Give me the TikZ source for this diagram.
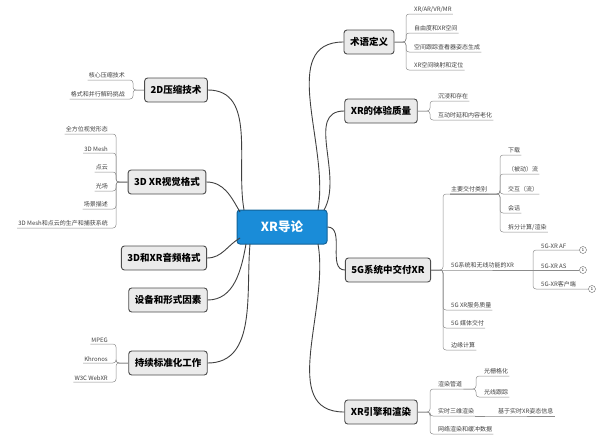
\documentclass[tikz,border=0pt]{standalone}
\usepackage{fontspec}
\setmainfont{Noto Sans CJK SC}
\definecolor{cblue}{HTML}{1A8CD8}
\definecolor{mfill}{HTML}{EBEBEB}
\begin{document}
\begin{tikzpicture}[x=1pt,y=-1pt,
  mainbox/.style={draw=black!70,fill=mfill,rounded corners=3pt,line width=0.9pt,minimum height=24pt,inner xsep=6pt,font=\fontsize{9.5}{11}\selectfont\bfseries},
  conn/.style={draw=black!75,line width=0.9pt},
  leafR/.style={anchor=south west,inner xsep=1pt,inner ysep=1.5pt,font=\fontsize{6}{7}\selectfont,text=black!75},
  leafL/.style={anchor=south east,inner xsep=1pt,inner ysep=1.5pt,font=\fontsize{6}{7}\selectfont,text=black!75},
  lline/.style={draw=black!45,line width=0.5pt,rounded corners=3pt},
  mark1/.style={circle,draw=black!60,inner sep=0.4pt,minimum size=7pt,font=\fontsize{4}{4}\selectfont}]
\useasboundingbox (0,0) rectangle (600,439);
\node[draw=cblue!70!black,fill=cblue,rounded corners=3pt,line width=1pt,minimum width=90pt,minimum height=34pt,text=white,font=\fontsize{12.5}{14}\selectfont\bfseries] (c) at (282,227) {XR导论};
% main nodes
\node[mainbox] (term) at (369,42) {术语定义};
\node[mainbox] (qual) at (381,111) {XR的体验质量};
\node[mainbox] (fg) at (388,270) {5G系统中交付XR};
\node[mainbox] (eng) at (381,412) {XR引擎和渲染};
\node[mainbox] (d2) at (176,90) {2D压缩技术};
\node[mainbox] (d3) at (167,182) {3D XR视觉格式};
\node[mainbox] (aud) at (164,258) {3D和XR音频格式};
\node[mainbox] (dev) at (168,300) {设备和形式因素};
\node[mainbox] (std) at (168,363) {持续标准化工作};
% connectors
\draw[conn] (318,210) to[out=80,in=180] (term.west);
\draw[conn] (324,210) to[out=60,in=180] (qual.west);
\draw[conn] (c.east) to[out=0,in=180] (fg.west);
\draw[conn] (318,244) to[out=-80,in=180] (eng.west);
\draw[conn] (244,210) to[out=100,in=0] (d2.east);
\draw[conn] (240,212) to[out=120,in=0] (d3.east);
\draw[conn] (240,238) to[out=-150,in=0] (aud.east);
\draw[conn] (246,244) to[out=-100,in=0] (dev.east);
\draw[conn] (250,244) to[out=-95,in=0] (std.east);
% term leaves
\node[leafR] (t1) at (413,14) {XR/AR/VR/MR};
\node[leafR] (t2) at (413,33) {自由度和XR空间};
\node[leafR] (t3) at (413,52) {空间跟踪查看器姿态生成};
\node[leafR] (t4) at (413,70) {XR空间映射和定位};
\foreach \n in {t1,t2,t3,t4} \draw[lline] (term.east) -- (406,42) |- (\n.south west) -- (\n.south east);
% quality leaves
\node[leafR] (q1) at (437,101) {沉浸和存在};
\node[leafR] (q2) at (437,120) {互动时延和内容老化};
\foreach \n in {q1,q2} \draw[lline] (qual.east) -- (430,111) |- (\n.south west) -- (\n.south east);
% 5G leaves
\node[leafR] (f1) at (450,194) {主要交付类别};
\node[leafR] (f2) at (450,270) {5G系统和无线功能的XR};
\node[leafR] (f3) at (450,310) {5G XR服务质量};
\node[leafR] (f4) at (450,328) {5G 媒体交付};
\node[leafR] (f5) at (450,350) {边缘计算};
\foreach \n in {f1,f3,f4,f5} \draw[lline] (fg.east) -- (443,270) |- (\n.south west) -- (\n.south east);
\draw[lline] (fg.east) -- (f2.south west) -- (533,270);
\node[leafR] (m1) at (507,155) {下载};
\node[leafR] (m2) at (507,174) {（被动）流};
\node[leafR] (m3) at (507,194) {交互（流）};
\node[leafR] (m4) at (507,213) {会话};
\node[leafR] (m5) at (507,232) {拆分计算/渲染};
\foreach \n in {m1,m2,m3,m4,m5} \draw[lline] (f1.south west) -- (500,194) |- (\n.south west) -- (\n.south east);
\node[leafR] (s1) at (540,250) {5G-XR AF};
\node[leafR] (s2) at (540,270) {5G-XR AS};
\node[leafR] (s3) at (540,289) {5G-XR客户端};
\node[mark1] (k1) at (583,250) {1};
\node[mark1] (k2) at (583,270) {1};
\node[mark1] (k3) at (592,289) {1};
\draw[lline] (533,270) |- (s1.south west) -- (k1.west);
\draw[lline] (533,270) -- (k2.west);
\draw[lline] (533,270) |- (s3.south west) -- (k3.west);
% engine leaves
\node[leafR] (e1) at (437,389) {渲染管道};
\node[leafR] (e2) at (437,416) {实时三维渲染};
\node[leafR] (e3) at (437,434) {网络渲染和缓冲数据};
\foreach \n in {e1,e2,e3} \draw[lline] (eng.east) -- (430,412) |- (\n.south west) -- (\n.south east);
\node[leafR] (e4) at (483,376) {光栅格化};
\node[leafR] (e5) at (483,397) {光线跟踪};
\foreach \n in {e4,e5} \draw[lline] (e1.south east) -- (476,389) |- (\n.south west) -- (\n.south east);
\node[leafR] (e6) at (497,416) {基于实时XR姿态信息};
\draw[lline] (e2.south east) -- (e6.south west) -- (e6.south east);
% 2D leaves
\node[leafL] (a1) at (126,80) {核心压缩技术};
\node[leafL] (a2) at (126,99) {格式和并行解码挑战};
\foreach \n in {a1,a2} \draw[lline] (d2.west) -- (133,90) |- (\n.south east) -- (\n.south west);
% 3D leaves
\node[leafL] (b1) at (109,134) {全方位视觉形态};
\node[leafL] (b2) at (109,153) {3D Mesh};
\node[leafL] (b3) at (109,172) {点云};
\node[leafL] (b4) at (109,191) {光场};
\node[leafL] (b5) at (109,209) {场景描述};
\node[leafL] (b6) at (109,228) {3D Mesh和点云的生产和捕获系统};
\foreach \n in {b1,b2,b3,b4,b5,b6} \draw[lline] (d3.west) -- (116,182) |- (\n.south east) -- (\n.south west);
% std leaves
\node[leafL] (g1) at (109,344) {MPEG};
\node[leafL] (g2) at (109,363) {Khronos};
\node[leafL] (g3) at (109,382) {W3C WebXR};
\foreach \n in {g1,g2,g3} \draw[lline] (std.west) -- (116,363) |- (\n.south east) -- (\n.south west);
\end{tikzpicture}
\end{document}
